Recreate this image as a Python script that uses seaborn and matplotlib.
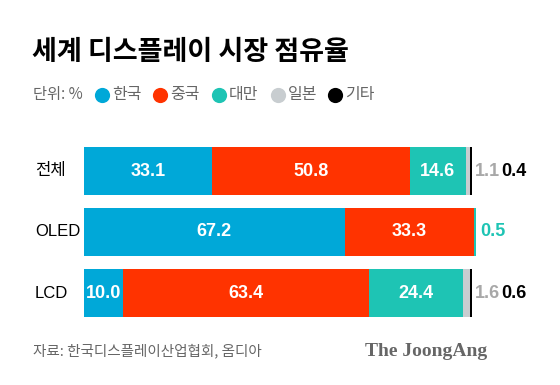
import numpy as np
import matplotlib
matplotlib.use("Agg")
import matplotlib.pyplot as plt
import seaborn as sns

# ── Data ───────────────────────────────────────────────────────────────────────
categories = ["전체", "OLED", "LCD"]
korea = [33.1, 67.2, 10.0]
china = [50.8, 33.3, 63.4]
taiwan = [14.6, 0.5, 24.4]
japan = [1.1, 0.0, 1.6]
other = [0.4, 0.0, 0.6]

series_names = ["한국", "중국", "대만", "일본", "기타"]
series_colors = ["#00A8D8", "#FF3300", "#1EC4B4", "#C8CDD0", "#000000"]

sns.set_theme(style="white")
plt.rcParams["font.family"] = ["Liberation Sans", "Noto Sans CJK KR", "DejaVu Sans"]
KR = ["Noto Sans CJK KR", "DejaVu Sans"]

fig = plt.figure(figsize=(5.6, 3.85), dpi=100)
fig.patch.set_facecolor("white")

# main axes: 0..102 % spans the bar area (100 % ends at x=472px)
XMAX = 102
ax = fig.add_axes([84 / 560, (385 - 323.5) / 385, 3.88 * XMAX / 560, 183 / 385])

# stacked bars via cumulative sums, drawn back to front
series = [korea, china, taiwan, japan, other]
cum = np.cumsum(np.array(series), axis=0)
for i in range(len(series) - 1, -1, -1):
    sns.barplot(x=cum[i], y=categories, orient="y", color=series_colors[i],
                saturation=1, width=0.8, linewidth=0, ax=ax)

ax.set_xlim(0, XMAX)
ax.set_ylim(2.5, -0.5)
ax.axis("off")

# labels inside segments
starts = np.vstack([np.zeros(len(categories)), cum[:-1]])
for i in range(3):  # korea, china, taiwan
    for j, v in enumerate(series[i]):
        if v >= 5:
            ax.text(starts[i][j] + v / 2, j, f"{v:.1f}", ha="center", va="center",
                    color="white", fontsize=13, fontweight="bold")

# small values outside the bar
for j in range(len(categories)):
    end = cum[-1][j]
    if japan[j] > 0:
        ax.annotate(f"{japan[j]:.1f}", (end, j), xytext=(2, 0), textcoords="offset points",
                    ha="left", va="center", color="#A8A8A8", fontsize=13, fontweight="bold",
                    annotation_clip=False)
        ax.annotate(f"{other[j]:.1f}", (end, j), xytext=(21, 0), textcoords="offset points",
                    ha="left", va="center", color="#000000", fontsize=13, fontweight="bold",
                    annotation_clip=False)
    elif taiwan[j] < 5:
        ax.annotate(f"{taiwan[j]:.1f}", (end, j), xytext=(3, 0), textcoords="offset points",
                    ha="left", va="center", color=series_colors[2], fontsize=13, fontweight="bold",
                    annotation_clip=False)

# ── Overlay for titles, legend, footer ─────────────────────────────────────────
ov = fig.add_axes([0, 0, 1, 1], zorder=-1)
ov.set_xlim(0, 560)
ov.set_ylim(385, 0)
ov.axis("off")

ov.text(32, 52, "세계 디스플레이 시장 점유율", fontsize=19.5, fontweight="heavy",
        family=KR, va="center", ha="left", color="black")

ov.text(33, 95, "단위: %", fontsize=11, family=KR, va="center", ha="left", color="#666666")
leg_x = [102, 160, 219, 278, 335]
for x, name, c in zip(leg_x, series_names, series_colors):
    ov.scatter([x], [95], s=120, color=c, linewidths=0)
    ov.text(x + 10, 95, name, fontsize=11.5, family=KR, va="center", ha="left", color="#666666")

for j, name in enumerate(categories):
    ov.text(35, 171 + 61 * j, name, fontsize=12, va="center", ha="left", color="black")

ov.text(33, 351, "자료: 한국디스플레이산업협회, 옴디아", fontsize=10.5, family=KR,
        va="center", ha="left", color="#666666")
ov.text(487, 351, "The JoongAng", fontsize=14, family=["Liberation Serif"], fontweight="bold",
        va="center", ha="right", color="#666666")

fig.savefig("out.png", dpi=100, facecolor="white")
